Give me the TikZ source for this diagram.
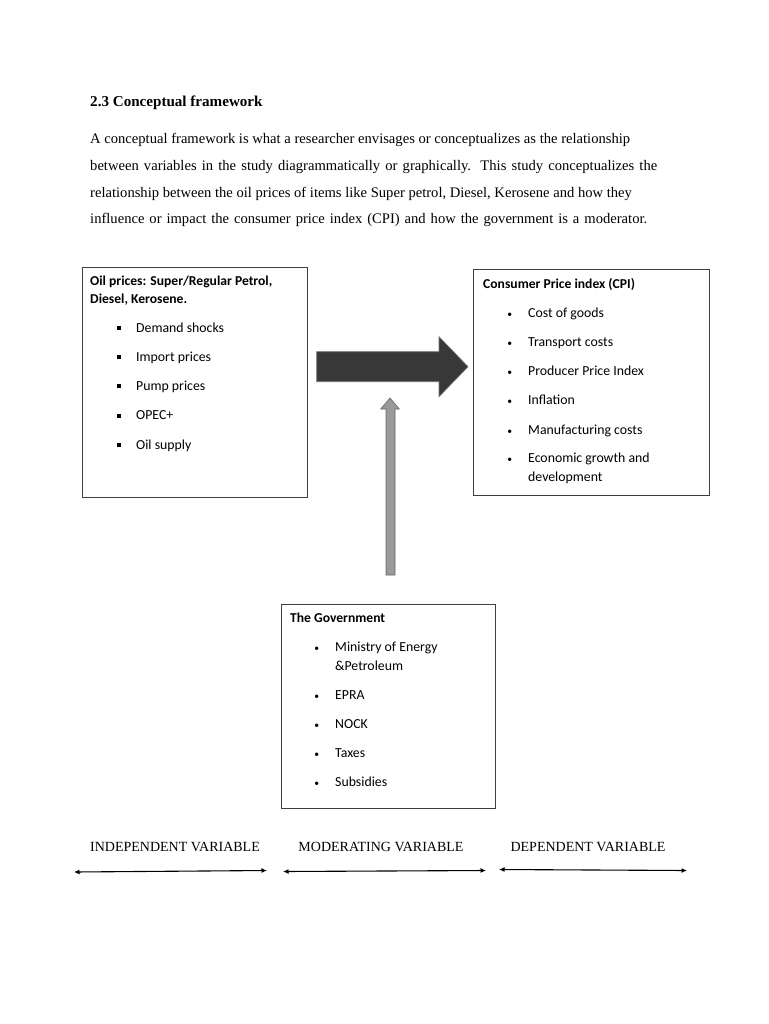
\documentclass[tikz,border=0pt]{standalone}
\usepackage{fontspec}
\setmainfont{Liberation Serif}
\newfontfamily\calfont{Carlito}
\usetikzlibrary{arrows.meta}

\tikzset{
  body/.style={anchor=base west, inner sep=0pt, font=\fontsize{14.6}{26.7}\selectfont, align=left},
  box/.style={draw=black!75, line width=0.9pt, anchor=north west, inner sep=0pt},
  boxhead/.style={anchor=base west, inner sep=0pt, align=left, font=\calfont\bfseries\fontsize{13.6}{18}\selectfont},
  item/.style={anchor=base west, inner sep=0pt, align=left, font=\calfont\fontsize{13.8}{18.6}\selectfont},
  varlabel/.style={anchor=base, inner sep=0pt, font=\fontsize{14}{16}\selectfont},
  vararrow/.style={{Latex[length=5.5pt,width=5pt]}-{Latex[length=5.5pt,width=5pt]}, line width=1.1pt},
}
\newcommand{\sqbul}{\llap{\raisebox{2.2pt}{\rule{4.2pt}{4.2pt}}\hspace{15pt}}}
\newcommand{\rdbul}{\llap{\scalebox{0.7}{\textbullet}\hspace{16pt}}}

\begin{document}
\begin{tikzpicture}[x=1pt, y=-1pt]
  \useasboundingbox[fill=white] (0,0) rectangle (768,1024);

  % heading and text (multi-line nodes sit on their last line)
  \node[body, font=\bfseries\fontsize{15.1}{16}\selectfont] (title) at (90,107) {2.3 Conceptual framework};
  \node[body] (para) at (90,224) {A conceptual framework is what a researcher envisages or conceptualizes as the relationship\\
    \makebox[567pt][s]{between variables in the study diagrammatically or graphically. This study conceptualizes the}\\
    relationship between the oil prices of items like Super petrol, Diesel, Kerosene and how they\\
    \makebox[557pt][s]{influence or impact the consumer price index (CPI) and how the government is a moderator.}};

  % independent variable
  \node[box, minimum width=225pt, minimum height=230pt] (oil) at (82,267) {};
  \node[boxhead] (oilhead) at (90,303) {Oil prices: Super/Regular Petrol,\\Diesel, Kerosene.};
  \foreach \txt [count=\i] in {Demand shocks, Import prices, Pump prices, OPEC+, Oil supply}
    \node[item] (oil-\i) at (136,{332+29.3*(\i-1)}) {\sqbul\txt};

  % dependent variable
  \node[box, minimum width=236pt, minimum height=226pt] (cpi) at (473,269) {};
  \node[boxhead] (cpihead) at (483,288) {Consumer Price index (CPI)};
  \foreach \txt [count=\i] in {Cost of goods, Transport costs, Producer Price Index, Inflation, Manufacturing costs}
    \node[item] (cpi-\i) at (528,{317+29.3*(\i-1)}) {\rdbul\txt};
  \node[item] (cpi-6) at (528,481) {\rdbul Economic growth and\\development};

  % moderating variable
  \node[box, minimum width=214pt, minimum height=204pt] (gov) at (281,604) {};
  \node[boxhead] (govhead) at (290,622) {The Government};
  \node[item] (gov-1) at (335,670) {\rdbul Ministry of Energy\\\&Petroleum};
  \foreach \txt [count=\i from 2] in {EPRA, NOCK, Taxes, Subsidies}
    \node[item] (gov-\i) at (335,{699+29.1*(\i-2)}) {\rdbul\txt};

  % arrows
  \fill[black!78, draw=black!55, line width=0.6pt] (316.7,351.7) -- (439,351.7) -- (439,336.7) -- (468,366.7)
    -- (439,396.7) -- (439,381.7) -- (316.7,381.7) -- cycle;
  \fill[black!40, draw=black!60, line width=0.6pt] (386,575) -- (386,409) -- (380.7,409) -- (390,398)
    -- (399.3,409) -- (395,409) -- (395,575) -- cycle;

  % variable labels
  \node[varlabel] (indep) at (175,851) {INDEPENDENT VARIABLE};
  \node[varlabel] (moder) at (381,851) {MODERATING VARIABLE};
  \node[varlabel] (depen) at (588,851) {DEPENDENT VARIABLE};
  \coordinate (indepL) at (74,872);   \coordinate (indepR) at (267,870.5);
  \coordinate (moderL) at (283,871.5); \coordinate (moderR) at (486,870.5);
  \coordinate (depenL) at (499,869.5); \coordinate (depenR) at (687,870.5);
  \draw[vararrow] (indepL) -- (indepR);
  \draw[vararrow] (moderL) -- (moderR);
  \draw[vararrow] (depenL) -- (depenR);
\end{tikzpicture}
\end{document}
